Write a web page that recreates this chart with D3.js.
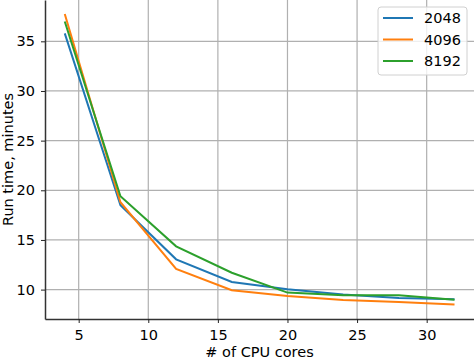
<!DOCTYPE html>
<html>
<head>
<meta charset="utf-8">
<script src="https://cdn.jsdelivr.net/npm/d3@7"></script>
<style>
  body { margin: 0; background: #fff; }
  svg { display: block; font-family: "DejaVu Sans", sans-serif; }
</style>
</head>
<body>
<svg width="474" height="360"></svg>
<script>
// CPU cores and run times (minutes) per problem size
var cores = [4, 8, 12, 16, 20, 24, 28, 32];
var run2048 = [35.8, 18.5, 13.05, 10.77, 10.03, 9.5, 9.16, 9.02];
var run4096 = [37.75, 18.8, 12.08, 9.93, 9.36, 8.95, 8.75, 8.49];
var run8192 = [37.0, 19.4, 14.36, 11.7, 9.7, 9.43, 9.43, 8.99];
var seriesNames = ["2048", "4096", "8192"];
var xTicks = [5, 10, 15, 20, 25, 30];
var yTicks = [10, 15, 20, 25, 30, 35];

var colors = ["#1f77b4", "#ff7f0e", "#2ca02c"];
var series = [run2048, run4096, run8192];

var svg = d3.select("svg"),
    margin = {top: 0, right: 0, bottom: 41, left: 45},
    width = +svg.attr("width") - margin.left - margin.right,
    height = +svg.attr("height") - margin.top - margin.bottom,
    g = svg.append("g").attr("transform", "translate(" + margin.left + "," + margin.top + ")");

var x = d3.scaleLinear().domain([2.58, 33.4]).range([0, width]);
var y = d3.scaleLinear().domain([7.04, 39.16]).range([height, 0]);

// grid
g.append("g")
    .selectAll("line.gx")
    .data(xTicks)
    .enter().append("line")
    .attr("x1", function (d) { return x(d); })
    .attr("x2", function (d) { return x(d); })
    .attr("y1", 0).attr("y2", height)
    .attr("stroke", "#b0b0b0").attr("stroke-width", 1.2);
g.append("g")
    .selectAll("line.gy")
    .data(yTicks)
    .enter().append("line")
    .attr("y1", function (d) { return y(d); })
    .attr("y2", function (d) { return y(d); })
    .attr("x1", 0).attr("x2", width)
    .attr("stroke", "#b0b0b0").attr("stroke-width", 1.2);

var line = d3.line()
    .x(function (d, i) { return x(cores[i]); })
    .y(function (d) { return y(d); });

series.forEach(function (s, i) {
    g.append("path")
        .datum(s)
        .attr("fill", "none")
        .attr("stroke", colors[i])
        .attr("stroke-width", 2)
        .attr("d", line);
});

// axes
var xAxis = g.append("g")
    .attr("transform", "translate(0," + height + ")")
    .call(d3.axisBottom(x).tickValues(xTicks).tickSize(4).tickSizeOuter(0).tickPadding(7));
var yAxis = g.append("g")
    .call(d3.axisLeft(y).tickValues(yTicks).tickSize(4).tickSizeOuter(0).tickPadding(6));
[xAxis, yAxis].forEach(function (a) {
    a.selectAll("text").attr("font-size", 14.5).attr("fill", "#000")
        .attr("font-family", "DejaVu Sans, sans-serif");
    a.selectAll("line").attr("stroke", "#222").attr("stroke-width", 1);
    a.select(".domain").attr("stroke", "#333").attr("stroke-width", 1.5);
});

// axis labels
svg.append("text")
    .attr("x", margin.left + width / 2)
    .attr("y", 357)
    .attr("text-anchor", "middle")
    .attr("font-size", 14.5)
    .text("# of CPU cores");
svg.append("text")
    .attr("transform", "translate(13," + (margin.top + height / 2) + ") rotate(-90)")
    .attr("text-anchor", "middle")
    .attr("font-size", 14.5)
    .text("Run time, minutes");

// legend
var legend = svg.append("g").attr("transform", "translate(378,7)");
legend.append("rect")
    .attr("width", 89).attr("height", 68)
    .attr("rx", 3)
    .attr("fill", "#fff").attr("fill-opacity", 0.8)
    .attr("stroke", "#d0d0d0");
seriesNames.forEach(function (n, i) {
    legend.append("line")
        .attr("x1", 5).attr("x2", 35)
        .attr("y1", 11 + i * 21.5).attr("y2", 11 + i * 21.5)
        .attr("stroke", colors[i]).attr("stroke-width", 2);
    legend.append("text")
        .attr("x", 46).attr("y", 16 + i * 21.5)
        .attr("font-size", 14.5)
        .text(n);
});
</script>
</body>
</html>
